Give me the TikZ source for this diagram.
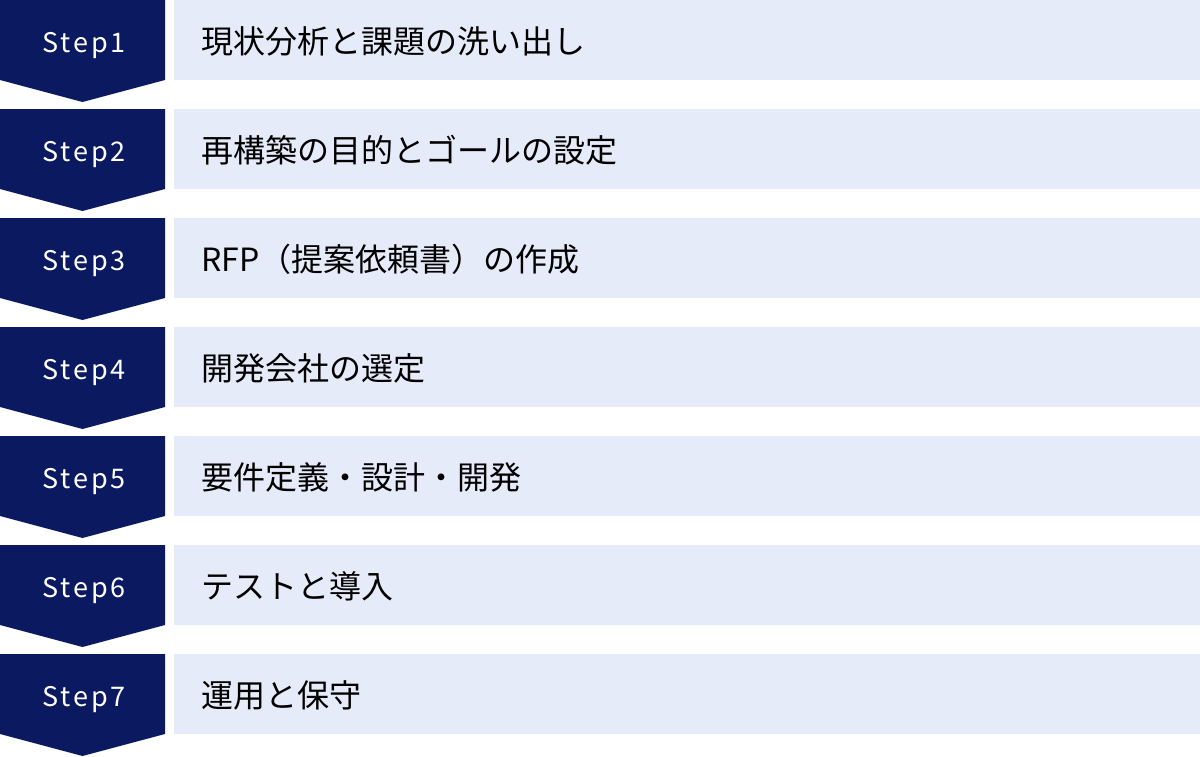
\documentclass[tikz,border=0pt]{standalone}
\usepackage{fontspec}
\setmainfont{Noto Sans CJK JP}
\usepackage{tikz}

\definecolor{stepnavy}{RGB}{11,25,97}
\definecolor{bandblue}{RGB}{230,235,249}

\begin{document}
\begin{tikzpicture}[
    x=1pt, y=-1pt,
    chevron/.style={fill=stepnavy, draw=none},
    band/.style={fill=bandblue, draw=none, minimum width=1026pt, minimum height=80pt,
      inner sep=0pt, anchor=north west},
    steplabel/.style={text=white, font=\fontsize{27}{32}\selectfont\addfontfeature{LetterSpace=11},
      inner sep=0pt, anchor=base},
    tasklabel/.style={text=black, font=\fontsize{32}{38}\selectfont, anchor=base west, inner sep=0pt}
    ]
\useasboundingbox (0,0) rectangle (1200,756);
\foreach \i/\task in {1/現状分析と課題の洗い出し, 2/再構築の目的とゴールの設定,
    3/RFP（提案依頼書）の作成, 4/開発会社の選定, 5/要件定義・設計・開発,
    6/テストと導入, 7/運用と保守}{
  \pgfmathsetmacro{\top}{109*(\i-1)}
  \draw[chevron] (0,\top) -- ++(165,0) -- ++(0,80) -- ++(-82.5,22) -- ++(-82.5,-22) -- cycle;
  \node[steplabel] (step\i) at (84,\top+52) {Step\i};
  \node[band] (band\i) at (174,\top) {};
  \node[tasklabel] (task\i) at (201,\top+53) {\task};
}
\end{tikzpicture}
\end{document}
